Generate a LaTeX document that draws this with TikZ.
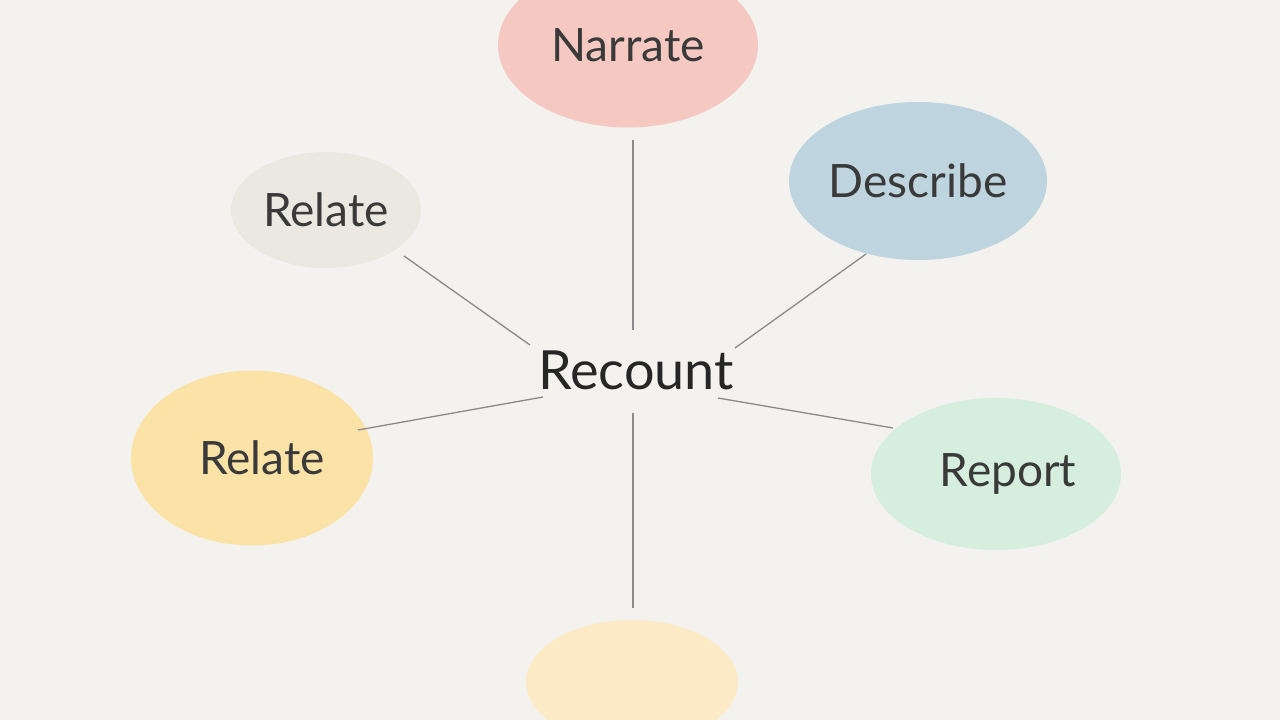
\documentclass[tikz,border=0pt]{standalone}
\usepackage{fontspec}
\setmainfont{Lato}
\usetikzlibrary{shapes.geometric}
\definecolor{bg}{HTML}{F3F2EE}
\definecolor{cpink}{HTML}{F5C8C1}
\definecolor{cblue}{HTML}{BED4DE}
\definecolor{cgrey}{HTML}{EAE8E1}
\definecolor{cyel}{HTML}{FBE3A8}
\definecolor{cgreen}{HTML}{D5EEDE}
\definecolor{cpale}{HTML}{FCEBC6}
\definecolor{txt}{HTML}{3A3A3A}
\definecolor{ln}{HTML}{8A8A8A}
\tikzset{blob/.style={ellipse,inner sep=0pt,text=txt,font=\fontsize{46}{50}\selectfont},
 conn/.style={draw=ln,line width=1.3pt}}
\begin{document}
\begin{tikzpicture}[x=1pt,y=-1pt]
\fill[bg] (0,0) rectangle (1280,720);
\useasboundingbox (0,0) rectangle (1280,720);
\node[blob,fill=cpink,minimum width=260pt,minimum height=165pt] (narrate) at (628,45) {Narrate};
\node[blob,fill=cblue,minimum width=258pt,minimum height=158pt] (describe) at (918,181) {Describe};
\node[blob,fill=cgrey,minimum width=190pt,minimum height=116pt] (relate1) at (326,210) {Relate};
\node[blob,fill=cyel,minimum width=242pt,minimum height=175pt] (relate2) at (252,458) {\hspace*{20pt}Relate};
\node[blob,fill=cgreen,minimum width=250pt,minimum height=152pt] (report) at (996,474) {\hspace*{24pt}Report};
\node[blob,fill=cpale,minimum width=212pt,minimum height=124pt] (bottom) at (632,682) {};
\node[text=black!85,font=\fontsize{54}{58}\selectfont] (recount) at (636,370) {Recount};
\coordinate (a1) at (633,140); \coordinate (a2) at (633,330);
\coordinate (b1) at (866,254); \coordinate (b2) at (735,348);
\coordinate (c1) at (404,256); \coordinate (c2) at (530,345);
\coordinate (d1) at (358,430); \coordinate (d2) at (543,397);
\coordinate (e1) at (893,428); \coordinate (e2) at (718,398);
\coordinate (f1) at (633,608); \coordinate (f2) at (633,413);
\draw[conn] (a1)--(a2); \draw[conn] (b1)--(b2); \draw[conn] (c1)--(c2);
\draw[conn] (d1)--(d2); \draw[conn] (e1)--(e2); \draw[conn] (f1)--(f2);
\end{tikzpicture}
\end{document}
